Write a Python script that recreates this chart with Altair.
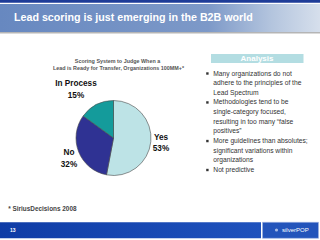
import altair as alt
import pandas as pd

# ---------------- data ----------------
CATEGORIES = ["Yes", "No", "In Process"]
SHARES = [53, 32, 15]
SLICE_COLORS = ["#bde3e6", "#2f3293", "#149b9b"]

TITLE = "Lead scoring is just emerging in the B2B world"
CHART_TITLE = ["Scoring System to Judge When a",
               "Lead is Ready for Transfer, Organizations 100MM+*"]
ANALYSIS_HEADER = "Analysis"
BULLETS = [
    ["Many organizations do not", "adhere to the principles of the", "Lead Spectrum"],
    ["Methodologies tend to be", "single-category focused,",
     "resulting in too many \u201cfalse", "positives\u201d"],
    ["More guidelines than absolutes;", "significant variations within", "organizations"],
    ["Not predictive"],
]
FOOTNOTE = "* SiriusDecisions 2008"
PAGE_NUMBER = "13"
BRAND = "silverPOP"

# ---------------- layout (pixels) ----------------
W, H = 320, 240
PIE_CX, PIE_CY, PIE_R = 113.5, 138, 37.5
LABEL_POS = {"Yes": (161, 137.5, 149), "No": (69, 153, 164.5), "In Process": (76, 83.5, 96)}
SANS = "Liberation Sans, Arial, sans-serif"

one = alt.Data(values=[{"k": 0}])


def rect(x1, x2, y1, y2, color, **kw):
    return alt.Chart(one).mark_rect(color=color, **kw).encode(
        x=alt.value(x1), x2=alt.value(x2), y=alt.value(y1), y2=alt.value(y2))


def text(s, x, y, **kw):
    kw.setdefault("baseline", "middle")
    kw.setdefault("font", SANS)
    return alt.Chart(one).mark_text(text=s, **kw).encode(x=alt.value(x), y=alt.value(y))


layers = []

# header
layers.append(rect(0, W, 0, 2.7, "#1e3c98"))
header_grad = alt.Gradient(
    gradient="linear", x1=0, x2=1, y1=0, y2=0,
    stops=[alt.GradientStop(offset=0, color="#6788c0"),
           alt.GradientStop(offset=0.65, color="#7d99c8"),
           alt.GradientStop(offset=0.85, color="#b4c5de"),
           alt.GradientStop(offset=1, color="#d6dfec")])
layers.append(rect(0, W, 4, 32, header_grad))
layers.append(rect(0, W, 32, 33.5, "#b5b5b5"))
layers.append(text(TITLE, 14, 18.3, align="left", fontSize=10.7,
                   fontWeight="bold", color="white"))

# pie
pie_df = pd.DataFrame({"category": CATEGORIES, "share": SHARES,
                       "idx": list(range(len(CATEGORIES)))})
pie = alt.Chart(pie_df).mark_arc(radius=PIE_R, stroke="#4a4a4a", strokeWidth=0.6).encode(
    theta=alt.Theta("share:Q", stack=True),
    order=alt.Order("idx:Q"),
    color=alt.Color("category:N", scale=alt.Scale(domain=CATEGORIES, range=SLICE_COLORS),
                    legend=None),
    x=alt.value(PIE_CX), y=alt.value(PIE_CY))
layers.append(pie)

for cat in CATEGORIES:
    lx, ly1, ly2 = LABEL_POS[cat]
    base = alt.Chart(pie_df).transform_filter(alt.datum.category == cat)
    layers.append(base.mark_text(font=SANS, fontSize=8.2, fontWeight="bold",
                                 color="#111", baseline="middle").encode(
        text="category:N", x=alt.value(lx), y=alt.value(ly1)))
    layers.append(base.transform_calculate(pct="datum.share + '%'").mark_text(
        font=SANS, fontSize=8.2, fontWeight="bold", color="#111", baseline="middle").encode(
        text="pct:N", x=alt.value(lx), y=alt.value(ly2)))

# chart title
layers.append(text(CHART_TITLE[0], 117.5, 61, fontSize=5.4,
                   fontWeight="bold", color="#555"))
layers.append(text(CHART_TITLE[1], 118.5, 68.3, fontSize=5.4,
                   fontWeight="bold", color="#555"))

# analysis panel
layers.append(rect(211, 303.5, 54, 63, "#b3dde2"))
layers.append(text(ANALYSIS_HEADER, 257, 58.7, fontSize=8,
                   fontWeight="bold", color="white"))
line_y0, line_step = 73.5, 9.65
i = 0
for group in BULLETS:
    yb = line_y0 + i * line_step
    layers.append(rect(206.2, 208.6, yb - 1.2, yb + 1.2, "#333333"))
    for ln in group:
        layers.append(text(ln, 213.3, line_y0 + i * line_step, align="left",
                           fontSize=6.7, color="#333"))
        i += 1

# footnote
layers.append(text(FOOTNOTE, 8.3, 209.3, align="left", fontSize=6.4,
                   fontWeight="bold", color="#444"))

# footer
footer_grad = alt.Gradient(
    gradient="linear", x1=0, x2=1, y1=0, y2=0,
    stops=[alt.GradientStop(offset=0, color="#0f3ca6"),
           alt.GradientStop(offset=1, color="#1f52bd")])
layers.append(rect(0, 261, 222.3, 238.3, footer_grad))
layers.append(rect(262.5, 318.5, 222.3, 238.3, "#2354bb", stroke="#9fb4e0", strokeWidth=0.6))
layers.append(text(PAGE_NUMBER, 10, 230.3, align="left", fontSize=5,
                   fontWeight="bold", color="white"))
layers.append(text(BRAND, 282, 230.3, align="left", fontSize=6, color="white"))
layers.append(alt.Chart(one).mark_point(shape="circle", filled=True, size=10, color="#dfe6f5").encode(
    x=alt.value(276.5), y=alt.value(230)))

chart = alt.layer(*layers).properties(
    width=W, height=H, autosize="none", padding=0, background="white"
).configure_view(stroke=None)

chart.save("out.html", embed_options={"renderer": "svg", "actions": False})
